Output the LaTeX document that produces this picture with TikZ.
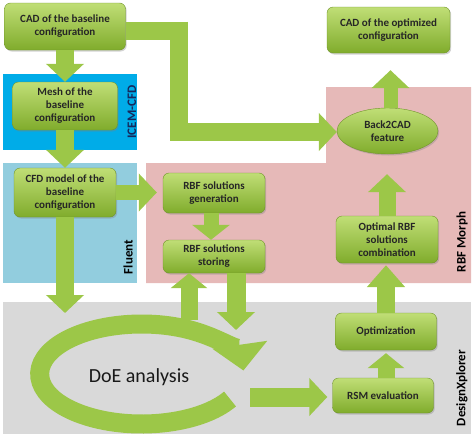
\documentclass[tikz,border=0pt]{standalone}
\usepackage{fontspec}
\setmainfont{Carlito}
\usetikzlibrary{arrows.meta,shapes.geometric,shadows,calc}
\definecolor{icemblue}{RGB}{0,172,232}
\definecolor{fluentblue}{RGB}{146,205,222}
\definecolor{morphpink}{RGB}{230,185,184}
\definecolor{dxgray}{RGB}{217,217,217}
\definecolor{boxtop}{RGB}{192,222,118}
\definecolor{boxbot}{RGB}{128,172,44}
\definecolor{boxedge}{RGB}{112,148,42}
\definecolor{arrowgreen}{RGB}{156,199,72}
\definecolor{labelnavy}{RGB}{22,40,92}
\tikzset{
  stepbox/.style={rectangle, rounded corners=6pt, draw=boxedge, thin,
                  top color=boxtop, bottom color=boxbot, align=center, inner sep=2pt,
                  font=\bfseries\fontsize{11}{13}\selectfont, text=black!85,
                  drop shadow={shadow xshift=1.2pt, shadow yshift=-1.5pt, opacity=0.35}},
  blockarrow/.style={draw=arrowgreen, line width=18pt, line join=miter,
                     -{Triangle[width=37pt,length=18pt]}},
  zonelabel/.style={rotate=90, inner sep=0pt, font=\bfseries\fontsize{13}{15}\selectfont}
}
\begin{document}
\begin{tikzpicture}[x=1pt,y=-1pt]
\useasboundingbox (0,0) rectangle (474,447);
% tool zones
\fill[icemblue] (3,74) rectangle (137,150);
\fill[fluentblue] (3,163) rectangle (137,283);
\fill[morphpink] (146,163) -- (326,163) -- (326,87) -- (471,87) -- (471,283) -- (146,283) -- cycle;
\fill[dxgray] (3,302) rectangle (471,434);
\node[zonelabel, text=labelnavy] (icemlabel) at (132,112) {ICEM-CFD};
\node[zonelabel] (fluentlabel) at (128,257) {Fluent};
\node[zonelabel] (morphlabel) at (462,242) {RBF Morph};
\node[zonelabel] (dxlabel) at (462,388) {DesignXplorer};
% steps
\node[stepbox, minimum width=121pt, minimum height=47pt] (cadbase) at (65,26.5) {CAD of the baseline\\configuration};
\node[stepbox, minimum width=105pt, minimum height=48pt] (mesh) at (65,106) {Mesh of the\\baseline\\configuration};
\node[stepbox, minimum width=102pt, minimum height=49pt] (cfd) at (65,192.5) {CFD model of the\\baseline\\configuration};
\node[stepbox, minimum width=102pt, minimum height=40pt] (rbfgen) at (214,193) {RBF solutions\\generation};
\node[stepbox, minimum width=102pt, minimum height=33pt] (rbfstore) at (214,256.5) {RBF solutions\\storing};
\node[stepbox, minimum width=123pt, minimum height=46pt] (cadopt) at (388.5,30) {CAD of the optimized\\configuration};
\node[stepbox, ellipse, inner sep=0pt, minimum width=101pt, minimum height=46pt] (back2cad) at (387.5,131) {Back2CAD\\feature};
\node[stepbox, minimum width=102pt, minimum height=47pt] (optrbf) at (387,239.5) {Optimal RBF\\solutions\\combination};
\node[stepbox, minimum width=101pt, minimum height=37pt] (optim) at (386,331.5) {Optimization};
\node[stepbox, minimum width=101pt, minimum height=35pt] (rsm) at (383,395.5) {RSM evaluation};
\node[font=\fontsize{20}{22}\selectfont, text=black!90] (doe) at (139,377) {DoE analysis};
\coordinate (bendtop) at (179,30.5);
\coordinate (bend) at (179,132);
\coordinate (ringstart) at (230,399);
\coordinate (doetop) at (65,313);
\coordinate (upstart) at (189,320);
\coordinate (downend) at (236,330);
\coordinate (ringexit) at (250,397);
% flow
\draw[blockarrow] (cadbase.south) -- (mesh.north);
\draw[blockarrow] (mesh.south) -- (cfd.north);
\draw[blockarrow] (cfd.south) -- (doetop);
\draw[blockarrow, line width=15pt, shorten >=6pt] (cfd.east) -- (cfd.east -| rbfgen.west);
\draw[blockarrow, line width=15pt, -{Triangle[width=37pt,length=15pt]}] ([xshift=-3pt]rbfgen.south) -- ([xshift=-3pt]rbfstore.north);
\draw[draw=arrowgreen, line width=18pt] (cadbase.east |- bendtop) -- (bendtop);
\draw[blockarrow] ([yshift=9pt]bendtop) -- (bend) -- (bend -| back2cad.west);
\draw[blockarrow, line width=14pt, shorten >=17pt] ([xshift=3pt]back2cad.north) -- ([xshift=3pt]back2cad.north |- cadopt.south);
\draw[blockarrow, line width=17pt, shorten >=20pt] (optrbf.north) -- (optrbf.north |- back2cad.south);
\draw[blockarrow, shorten >=2pt, -{Triangle[width=37pt,length=22pt]}] (optim.north) -- (optim.north |- optrbf.south);
\draw[blockarrow, line width=17pt, shorten >=3pt, -{Triangle[width=36pt,length=15pt]}] (rsm.north -| optim) -- (optim.south);
\draw[blockarrow, line width=19pt] (rbfstore.south -| downend) -- (downend);
\draw[blockarrow, line width=17pt, -{Triangle[width=36pt,length=15pt]}] (upstart) -- (upstart |- rbfstore.south);
% DoE loop
\draw[blockarrow, line width=19pt, -{Triangle[width=54pt,length=26pt]}] (ringstart) arc[start angle=30, end angle=356, x radius=102, y radius=50];
\draw[blockarrow, line width=19pt, shorten >=5pt] (ringexit) -- (ringexit -| rsm.west);
\end{tikzpicture}
\end{document}
